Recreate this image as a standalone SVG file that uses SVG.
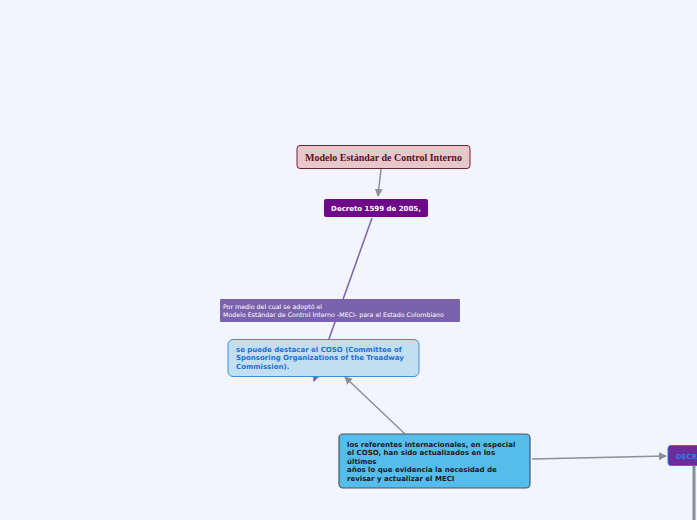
<svg xmlns="http://www.w3.org/2000/svg" width="697" height="520" viewBox="0 0 697 520">
<style>
.sans{font-family:"DejaVu Sans",Verdana,sans-serif;font-weight:bold}
.g{stroke:#8a8f99;stroke-width:1.5;fill:none}
</style>
<defs>
<marker id="ag" markerWidth="8" markerHeight="8" refX="7" refY="4" orient="auto" markerUnits="userSpaceOnUse"><path d="M0,0L8,4L0,8z" fill="#8a8f99"/></marker>
<marker id="ap" markerWidth="8" markerHeight="8" refX="7" refY="4" orient="auto" markerUnits="userSpaceOnUse"><path d="M0,0L8,4L0,8z" fill="#7b62ad"/></marker>
</defs>
<rect width="697" height="520" fill="#f3f5fe"/>
<g id="connectors">
<line class="g" x1="381" y1="169" x2="378" y2="196" marker-end="url(#ag)"/>
<line x1="372" y1="218" x2="314" y2="381" stroke="#7b62ad" stroke-width="1.5" marker-end="url(#ap)"/>
<line class="g" x1="405" y1="434" x2="345" y2="377" marker-end="url(#ag)"/>
<line class="g" x1="532" y1="459" x2="666" y2="456" marker-end="url(#ag)"/>
<line x1="694" y1="466" x2="694" y2="520" stroke="#8a8f99" stroke-width="3"/>
</g>
<g id="n1"><rect x="297" y="145.5" width="173" height="23" rx="3" fill="#e8c7cb" stroke="#6b2330" stroke-width="1"/>
<text x="383.5" y="161" text-anchor="middle" font-family="Liberation Serif,serif" font-weight="bold" font-size="10" fill="#5a1320">Modelo Estándar de Control Interno</text></g>
<g id="n2"><rect x="324" y="199" width="104" height="18" rx="2" fill="#6e0a87"/>
<text x="376" y="211" text-anchor="middle" class="sans" font-size="7" fill="#fff">Decreto 1599 de 2005,</text></g>
<g id="n3"><rect x="220" y="299" width="240" height="23" rx="1" fill="#7b62ad"/>
<text class="sans" font-size="6.3" font-weight="normal" fill="#fff" style="font-weight:normal"><tspan x="223" y="308.5">Por medio del cual se adoptó el</tspan><tspan x="223" y="317">Modelo Estándar de Control Interno -MECI- para el Estado Colombiano</tspan></text></g>
<g id="n4"><rect x="228" y="339.5" width="191" height="37" rx="5" fill="#c2dff2" stroke="#3a8fe0" stroke-width="1"/>
<text class="sans" font-size="7" fill="#1f6fd6"><tspan x="236" y="351.5">se puede destacar el COSO (Committee of</tspan><tspan x="236" y="360">Sponsoring Organizations of the Treadway</tspan><tspan x="236" y="368.5">Commission).</tspan></text></g>
<g id="n5"><rect x="339" y="434" width="191" height="54" rx="4" fill="#55bdeb" stroke="#4a5560" stroke-width="1.2"/>
<text class="sans" font-size="7" fill="#1a1a1a"><tspan x="347" y="446.5">los referentes internacionales, en especial</tspan><tspan x="347" y="455">el COSO, han sido actualizados en los</tspan><tspan x="347" y="463.5">últimos</tspan><tspan x="347" y="472">años lo que evidencia la necesidad de</tspan><tspan x="347" y="480.5">revisar y actualizar el MECI</tspan></text></g>
<g id="n6"><rect x="668" y="445.5" width="35" height="20" rx="3" fill="#6a2e9a" stroke="#3b6fe0" stroke-width="1"/>
<text x="676" y="458.5" class="sans" font-size="7" fill="#2f7be8">DECRETO</text></g>
</svg>
